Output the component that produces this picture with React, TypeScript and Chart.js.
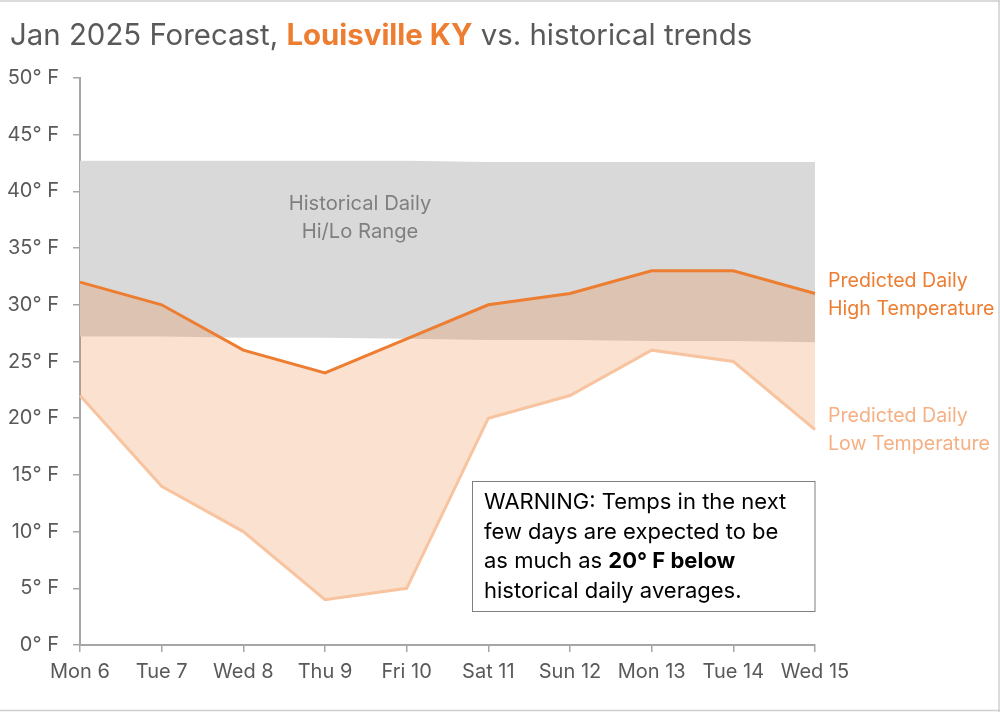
import { useEffect, useRef } from "react";
import { Chart, registerables } from "chart.js";

Chart.register(...registerables);

// Forecast days for the week of Jan 6–15, 2025
const days = ["Mon 6", "Tue 7", "Wed 8", "Thu 9", "Fri 10", "Sat 11", "Sun 12", "Mon 13", "Tue 14", "Wed 15"];

// Predicted temperatures (°F)
const predictedHigh = [32, 30, 26, 24, 27, 30, 31, 33, 33, 31];
const predictedLow = [22, 14, 10, 4, 5, 20, 22, 26, 25, 19];

// Historical daily hi/lo averages (°F)
const historicalHigh = [42.7, 42.7, 42.7, 42.7, 42.7, 42.6, 42.6, 42.6, 42.6, 42.6];
const historicalLow = [27.2, 27.2, 27.1, 27.1, 27.0, 26.9, 26.9, 26.8, 26.8, 26.7];

// Y axis ticks (°F)
const yTicks = [0, 5, 10, 15, 20, 25, 30, 35, 40, 45, 50];

const FONT = "Inter, 'Noto Sans', sans-serif";
const ORANGE = "#ED7D31";
const LIGHT_ORANGE = "#F8C4A0";
const LABEL_LIGHT = "#F5B084";
const GRAY_TEXT = "#595959";
const AXIS = "#a6a6a6";

const overlayPlugin = {
  id: "overlay",
  afterDraw(chart: any) {
    const { ctx, chartArea } = chart;
    ctx.save();

    // frame lines
    ctx.strokeStyle = "#d0d0d0";
    ctx.lineWidth = 1.5;
    ctx.beginPath();
    ctx.moveTo(0, 1);
    ctx.lineTo(1000, 1);
    ctx.moveTo(999, 0);
    ctx.lineTo(999, 712);
    ctx.moveTo(0, 710.5);
    ctx.lineTo(1000, 710.5);
    ctx.stroke();

    // title with highlighted city
    ctx.textBaseline = "alphabetic";
    ctx.textAlign = "left";
    let x = 10;
    const titleY = 45;
    const parts = [
      { t: "Jan 2025 Forecast, ", c: GRAY_TEXT, w: "normal" },
      { t: "Louisville KY", c: ORANGE, w: "bold" },
      { t: " vs. historical trends", c: GRAY_TEXT, w: "normal" },
    ];
    for (const p of parts) {
      ctx.font = `${p.w} 29.4px ${FONT}`;
      ctx.fillStyle = p.c;
      ctx.fillText(p.t, x, titleY);
      x += ctx.measureText(p.t).width;
    }

    // band label
    ctx.font = `20.2px ${FONT}`;
    ctx.fillStyle = "#7f7f7f";
    ctx.textAlign = "center";
    ctx.textBaseline = "middle";
    const bandX = chartArea.left + 280;
    ctx.fillText("Historical Daily", bandX, 204);
    ctx.fillText("Hi/Lo Range", bandX, 232);

    // series labels at the right
    ctx.font = `19.6px ${FONT}`;
    ctx.textAlign = "left";
    const lx = chartArea.right + 13;
    ctx.fillStyle = ORANGE;
    ctx.fillText("Predicted Daily", lx, 281);
    ctx.fillText("High Temperature", lx, 309);
    ctx.fillStyle = LABEL_LIGHT;
    ctx.fillText("Predicted Daily", lx, 416);
    ctx.fillText("Low Temperature", lx, 444);

    // warning box
    const bx = 472.5;
    const by = 481.5;
    const bw = chartArea.right - bx;
    const bh = 130;
    ctx.fillStyle = "#ffffff";
    ctx.fillRect(bx, by, bw, bh);
    ctx.strokeStyle = "#7f7f7f";
    ctx.lineWidth = 1;
    ctx.strokeRect(bx, by, bw, bh);

    ctx.fillStyle = "#000000";
    ctx.textBaseline = "alphabetic";
    const tx = bx + 11.5;
    const f = 22;
    ctx.font = `${f}px ${FONT}`;
    ctx.fillText("WARNING: Temps in the next", tx, 509);
    ctx.fillText("few days are expected to be", tx, 538.5);
    ctx.fillText("as much as ", tx, 568);
    const w1 = ctx.measureText("as much as ").width;
    ctx.font = `bold ${f}px ${FONT}`;
    ctx.fillText("20° F below", tx + w1, 568);
    ctx.font = `${f}px ${FONT}`;
    ctx.fillText("historical daily averages.", tx, 597.5);

    ctx.restore();
  },
};

export default function App() {
  const canvasRef = useRef<HTMLCanvasElement | null>(null);

  useEffect(() => {
    const canvas = canvasRef.current;
    if (!canvas) return;

    const chart = new Chart(canvas, {
      type: "line",
      data: {
        labels: days,
        datasets: [
          {
            label: "Predicted Daily High Temperature",
            data: predictedHigh,
            borderColor: ORANGE,
            borderWidth: 3,
            backgroundColor: "rgba(237,125,49,0.23)",
            fill: "+1",
            pointRadius: 0,
            order: 1,
          },
          {
            label: "Predicted Daily Low Temperature",
            data: predictedLow,
            borderColor: LIGHT_ORANGE,
            borderWidth: 3,
            fill: false,
            pointRadius: 0,
            order: 0,
          },
          {
            label: "Historical High",
            data: historicalHigh,
            borderWidth: 0,
            borderColor: "rgba(0,0,0,0)",
            backgroundColor: "#d9d9d9",
            fill: "+1",
            pointRadius: 0,
            order: 2,
          },
          {
            label: "Historical Low",
            data: historicalLow,
            borderWidth: 0,
            borderColor: "rgba(0,0,0,0)",
            fill: false,
            pointRadius: 0,
            order: 3,
          },
        ],
      },
      options: {
        responsive: false,
        animation: false,
        devicePixelRatio: 1,
        layout: { padding: { top: 78, right: 185, left: 0, bottom: 0 } },
        plugins: {
          legend: { display: false },
          tooltip: { enabled: false },
          title: { display: false },
        },
        scales: {
          x: {
            offset: false,
            grid: {
              display: true,
              drawOnChartArea: false,
              drawTicks: true,
              tickLength: 7,
              color: AXIS,
              lineWidth: 1.5,
            },
            border: { display: true, color: AXIS, width: 2 },
            ticks: {
              color: GRAY_TEXT,
              font: { family: FONT, size: 20 },
              padding: 8,
              maxRotation: 0,
              autoSkip: false,
            },
            afterFit: (scale: any) => {
              scale.height = 67;
            },
          },
          y: {
            min: 0,
            max: 50,
            afterBuildTicks: (scale: any) => {
              scale.ticks = yTicks.map((v) => ({ value: v }));
            },
            grid: {
              display: true,
              drawOnChartArea: false,
              drawTicks: true,
              tickLength: 7,
              color: AXIS,
              lineWidth: 1.5,
            },
            border: { display: true, color: AXIS, width: 2 },
            ticks: {
              color: GRAY_TEXT,
              font: { family: FONT, size: 20 },
              padding: 14,
              callback: (v: any) => `${v}° F`,
            },
            afterFit: (scale: any) => {
              scale.width = 80;
            },
          },
        },
      },
      plugins: [overlayPlugin],
    });

    return () => chart.destroy();
  }, []);

  return (
    <div style={{ position: "absolute", left: 0, top: 0, width: 1000, height: 712, background: "#ffffff" }}>
      <canvas ref={canvasRef} width={1000} height={712} style={{ display: "block" }} />
    </div>
  );
}
